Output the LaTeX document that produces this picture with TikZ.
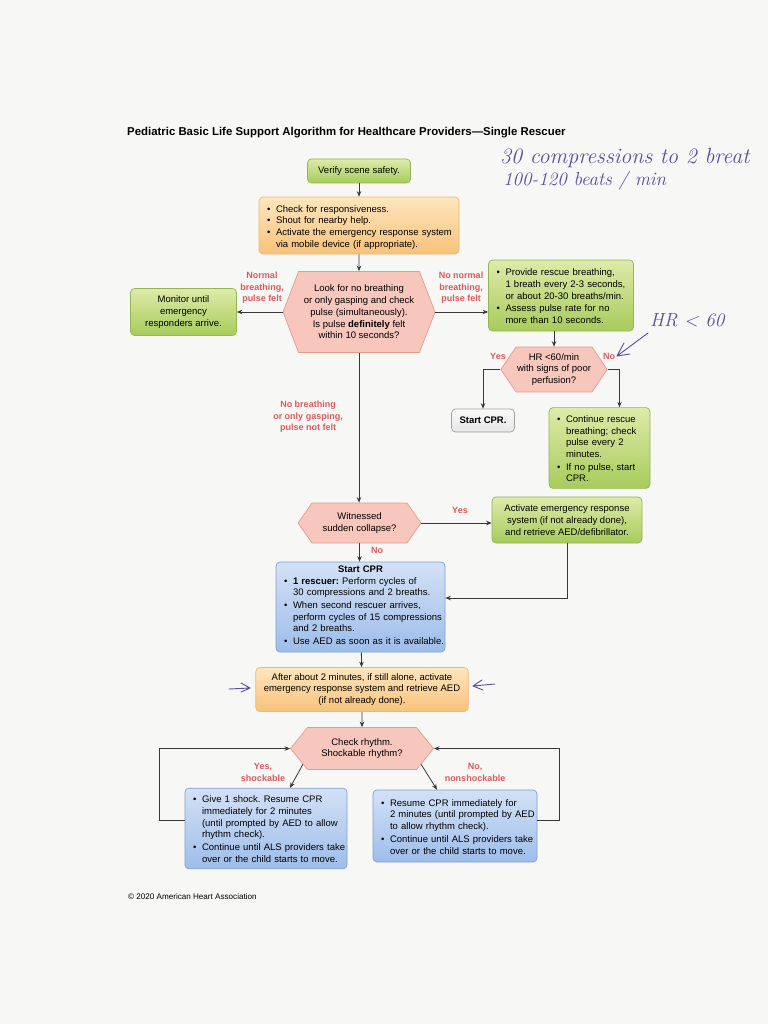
\documentclass[tikz,border=0pt]{standalone}
\usepackage{fontspec}
\newfontfamily\sffont{Liberation Sans}
\usetikzlibrary{arrows.meta,shapes.symbols}

\definecolor{paper}{HTML}{F7F7F6}
\definecolor{grntop}{HTML}{DDEBA8}
\definecolor{grnbot}{HTML}{A8CB5C}
\definecolor{grnline}{HTML}{93B553}
\definecolor{orgtop}{HTML}{FEE6BE}
\definecolor{orgbot}{HTML}{F8C27A}
\definecolor{orgline}{HTML}{EBB777}
\definecolor{hexfill}{HTML}{F7C6BC}
\definecolor{hexline}{HTML}{E39C8E}
\definecolor{blutop}{HTML}{D3E1F6}
\definecolor{blubot}{HTML}{9EBDEA}
\definecolor{bluline}{HTML}{7E9ED3}
\definecolor{grytop}{HTML}{FAFAFA}
\definecolor{grybot}{HTML}{E6E6E6}
\definecolor{gryline}{HTML}{A0A0A0}
\definecolor{lblred}{HTML}{DB5A5E}
\definecolor{hand}{HTML}{5A4C9C}

% bullet item inside a box, lines split by hand
\newcommand\bul[1]{\par\noindent\makebox[0.95em][l]{\textbullet}\begin{tabular}[t]{@{}l@{}}#1\end{tabular}\par}

\tikzset{
  box/.style={rounded corners=4pt, line width=0.7pt, inner xsep=8pt, inner ysep=3pt,
    font=\sffont\frenchspacing\fontsize{9.5}{11.7}\selectfont},
  grnbox/.style={box, draw=grnline, top color=grntop, bottom color=grnbot},
  orgbox/.style={box, draw=orgline, top color=orgtop, bottom color=orgbot},
  blubox/.style={box, draw=bluline, top color=blutop, bottom color=blubot},
  grybox/.style={box, draw=gryline, top color=grytop, bottom color=grybot},
  hexa/.style={signal, signal to=west and east, signal from=nowhere, draw=hexline,
    fill=hexfill, line width=0.7pt, inner sep=1pt, align=center,
    font=\sffont\frenchspacing\fontsize{9.5}{11.7}\selectfont},
  lbl/.style={text=lblred, align=center, inner sep=0pt,
    font=\sffont\bfseries\fontsize{9}{11.6}\selectfont},
  arr/.style={-{Stealth[length=5.5pt,width=4.5pt]}, line width=0.8pt, draw=black!78},
  handtxt/.style={text=hand, inner sep=0pt, anchor=west, font=\itshape\fontsize{19}{22}\selectfont},
  handln/.style={draw=hand, line width=0.9pt, line cap=round, line join=round},
}

\begin{document}
\begin{tikzpicture}[x=1pt,y=-1pt]
\useasboundingbox[fill=paper] (0,0) rectangle (768,1024);

\node[anchor=west, inner sep=0pt, font=\sffont\bfseries\fontsize{11.4}{13}\selectfont] (title) at (127,133)
  {Pediatric Basic Life Support Algorithm for Healthcare Providers—Single Rescuer};

% top of the chart
\node[grnbox, minimum width=103pt, minimum height=24pt, align=center] (verify) at (359,171) {Verify scene safety.};
\node[orgbox, text width=184pt, minimum height=57pt, align=left] (check) at (359,225.5)
  {\bul{Check for responsiveness.}\bul{Shout for nearby help.}\bul{Activate the emergency response system\\via mobile device (if appropriate).}};
\node[hexa, minimum width=152pt, minimum height=81pt, signal pointer angle=138] (pulse) at (359,312)
  {Look for no breathing\\or only gasping and check\\pulse (simultaneously).\\Is pulse \textbf{definitely} felt\\within 10 seconds?};
\node[grnbox, minimum width=106pt, minimum height=47pt, align=center] (monitor) at (183.5,312)
  {Monitor until\\emergency\\responders arrive.};
\node[grnbox, text width=129pt, minimum height=71pt, align=left] (rescue) at (561,295.5)
  {\bul{Provide rescue breathing,\\1 breath every 2-3 seconds,\\or about 20-30 breaths/min.}\bul{Assess pulse rate for no\\more than 10 seconds.}};

% pulse rate branch
\node[hexa, minimum width=100pt, minimum height=45pt, signal pointer angle=112] (hr) at (554,369.5)
  {HR <60/min\\with signs of poor\\perfusion?};
\node[grybox, minimum width=62pt, minimum height=23pt, align=center] (cprA) at (483,420.5) {\textbf{Start CPR.}};
\node[grnbox, text width=85pt, minimum height=80pt, align=left] (contin) at (599.5,448)
  {\bul{Continue rescue\\breathing; check\\pulse every 2\\minutes.}\bul{If no pulse, start\\CPR.}};

% collapse
\node[hexa, minimum width=123pt, minimum height=40pt, signal pointer angle=110] (witness) at (359.5,523)
  {Witnessed\\sudden collapse?};
\node[grnbox, minimum width=150pt, minimum height=46pt, align=center] (aed) at (567,520)
  {Activate emergency response\\system (if not already done),\\and retrieve AED/defibrillator.};
\node[blubox, text width=153pt, minimum height=90pt, align=left] (cpr) at (360.5,607)
  {{\centering\textbf{Start CPR}\par}\bul{\textbf{1 rescuer:} Perform cycles of\\30 compressions and 2 breaths.}\bul{When second rescuer arrives,\\perform cycles of 15 compressions\\and 2 breaths.}\bul{Use AED as soon as it is available.}};
\node[orgbox, minimum width=210pt, minimum height=44pt, align=center] (alone) at (362,689.5)
  {After about 2 minutes, if still alone, activate\\emergency response system and retrieve AED\\(if not already done).};

% rhythm
\node[hexa, minimum width=143pt, minimum height=42pt, signal pointer angle=102] (rhythm) at (362,748.5)
  {Check rhythm.\\Shockable rhythm?};
\node[blubox, text width=146pt, minimum height=77pt, align=left] (shock) at (266,828.5)
  {\bul{Give 1 shock. Resume CPR\\immediately for 2 minutes\\(until prompted by AED to allow\\rhythm check).}\bul{Continue until ALS providers take\\over or the child starts to move.}};
\node[blubox, text width=148pt, minimum height=72pt, align=left] (noshock) at (455,826)
  {\bul{Resume CPR immediately for\\2 minutes (until prompted by AED\\to allow rhythm check).}\bul{Continue until ALS providers take\\over or the child starts to move.}};

% labels
\node[lbl] (lnormal) at (262,288) {Normal\\breathing,\\pulse felt};
\node[lbl] (lnonormal) at (461,288) {No normal\\breathing,\\pulse felt};
\node[lbl] (lyesA) at (498,356) {Yes};
\node[lbl] (lnoA) at (609,356) {No};
\node[lbl] (lnobreath) at (308,417) {No breathing\\or only gasping,\\pulse not felt};
\node[lbl] (lyesB) at (460,510) {Yes};
\node[lbl] (lnoB) at (377,550) {No};
\node[lbl] (lyesC) at (263,772.5) {Yes,\\shockable};
\node[lbl] (lnoC) at (475,772.5) {No,\\nonshockable};

\node[anchor=west, inner sep=0pt, font=\sffont\fontsize{8.1}{9}\selectfont] (copy) at (128,897)
  {© 2020 American Heart Association};

% connectors
\draw[arr] (verify) -- (check);
\draw[arr] (check) -- (pulse);
\draw[arr] (pulse.west) -- (monitor.east);
\draw[arr] (pulse.east) -- (rescue.west |- pulse.east);
\draw[arr] (hr.north |- rescue.south) -- (hr.north);
\draw[arr] (hr.west) -| (cprA.north);
\draw[arr] (hr.east) -| ([xshift=20pt]contin.north);
\draw[arr] (pulse.south) -- (pulse.south |- witness.north);
\draw[arr] (witness.east) -- (aed.west |- witness.east);
\draw[arr] (aed.south) |- ([yshift=9pt]cpr.east);
\draw[arr] (witness.south) -- (witness.south |- cpr.north);
\draw[arr] (cpr) -- (alone);
\draw[arr] (alone) -- (rhythm);
\draw[arr] (rhythm.195) -- ([xshift=24pt]shock.north);
\draw[arr] (rhythm.-15) -- ([xshift=-18pt]noshock.north);
\draw[arr] ([yshift=8pt]shock.west) -- ++(-25,0) |- (rhythm.west);
\draw[arr] ([yshift=6pt]noshock.east) -- ++(22,0) |- (rhythm.east);

% pen notes
\node[handtxt, font=\itshape\fontsize{22}{24}\selectfont] (noteA) at (500,158) {30 compressions to 2 breat};
\node[handtxt] (noteB) at (503,181) {100-120 beats / min};
\node[handtxt] (noteC) at (650,320) {HR < 60};
\draw[handln] (648,333) -- (617,356) (624,343) -- (617,356) -- (630,354);
\draw[handln] (229,689) -- (250,688) (241,683) -- (250,688) -- (241,692);
\draw[handln] (495,684) -- (473,686) (482,680) -- (473,686) -- (483,690);
\end{tikzpicture}
\end{document}
